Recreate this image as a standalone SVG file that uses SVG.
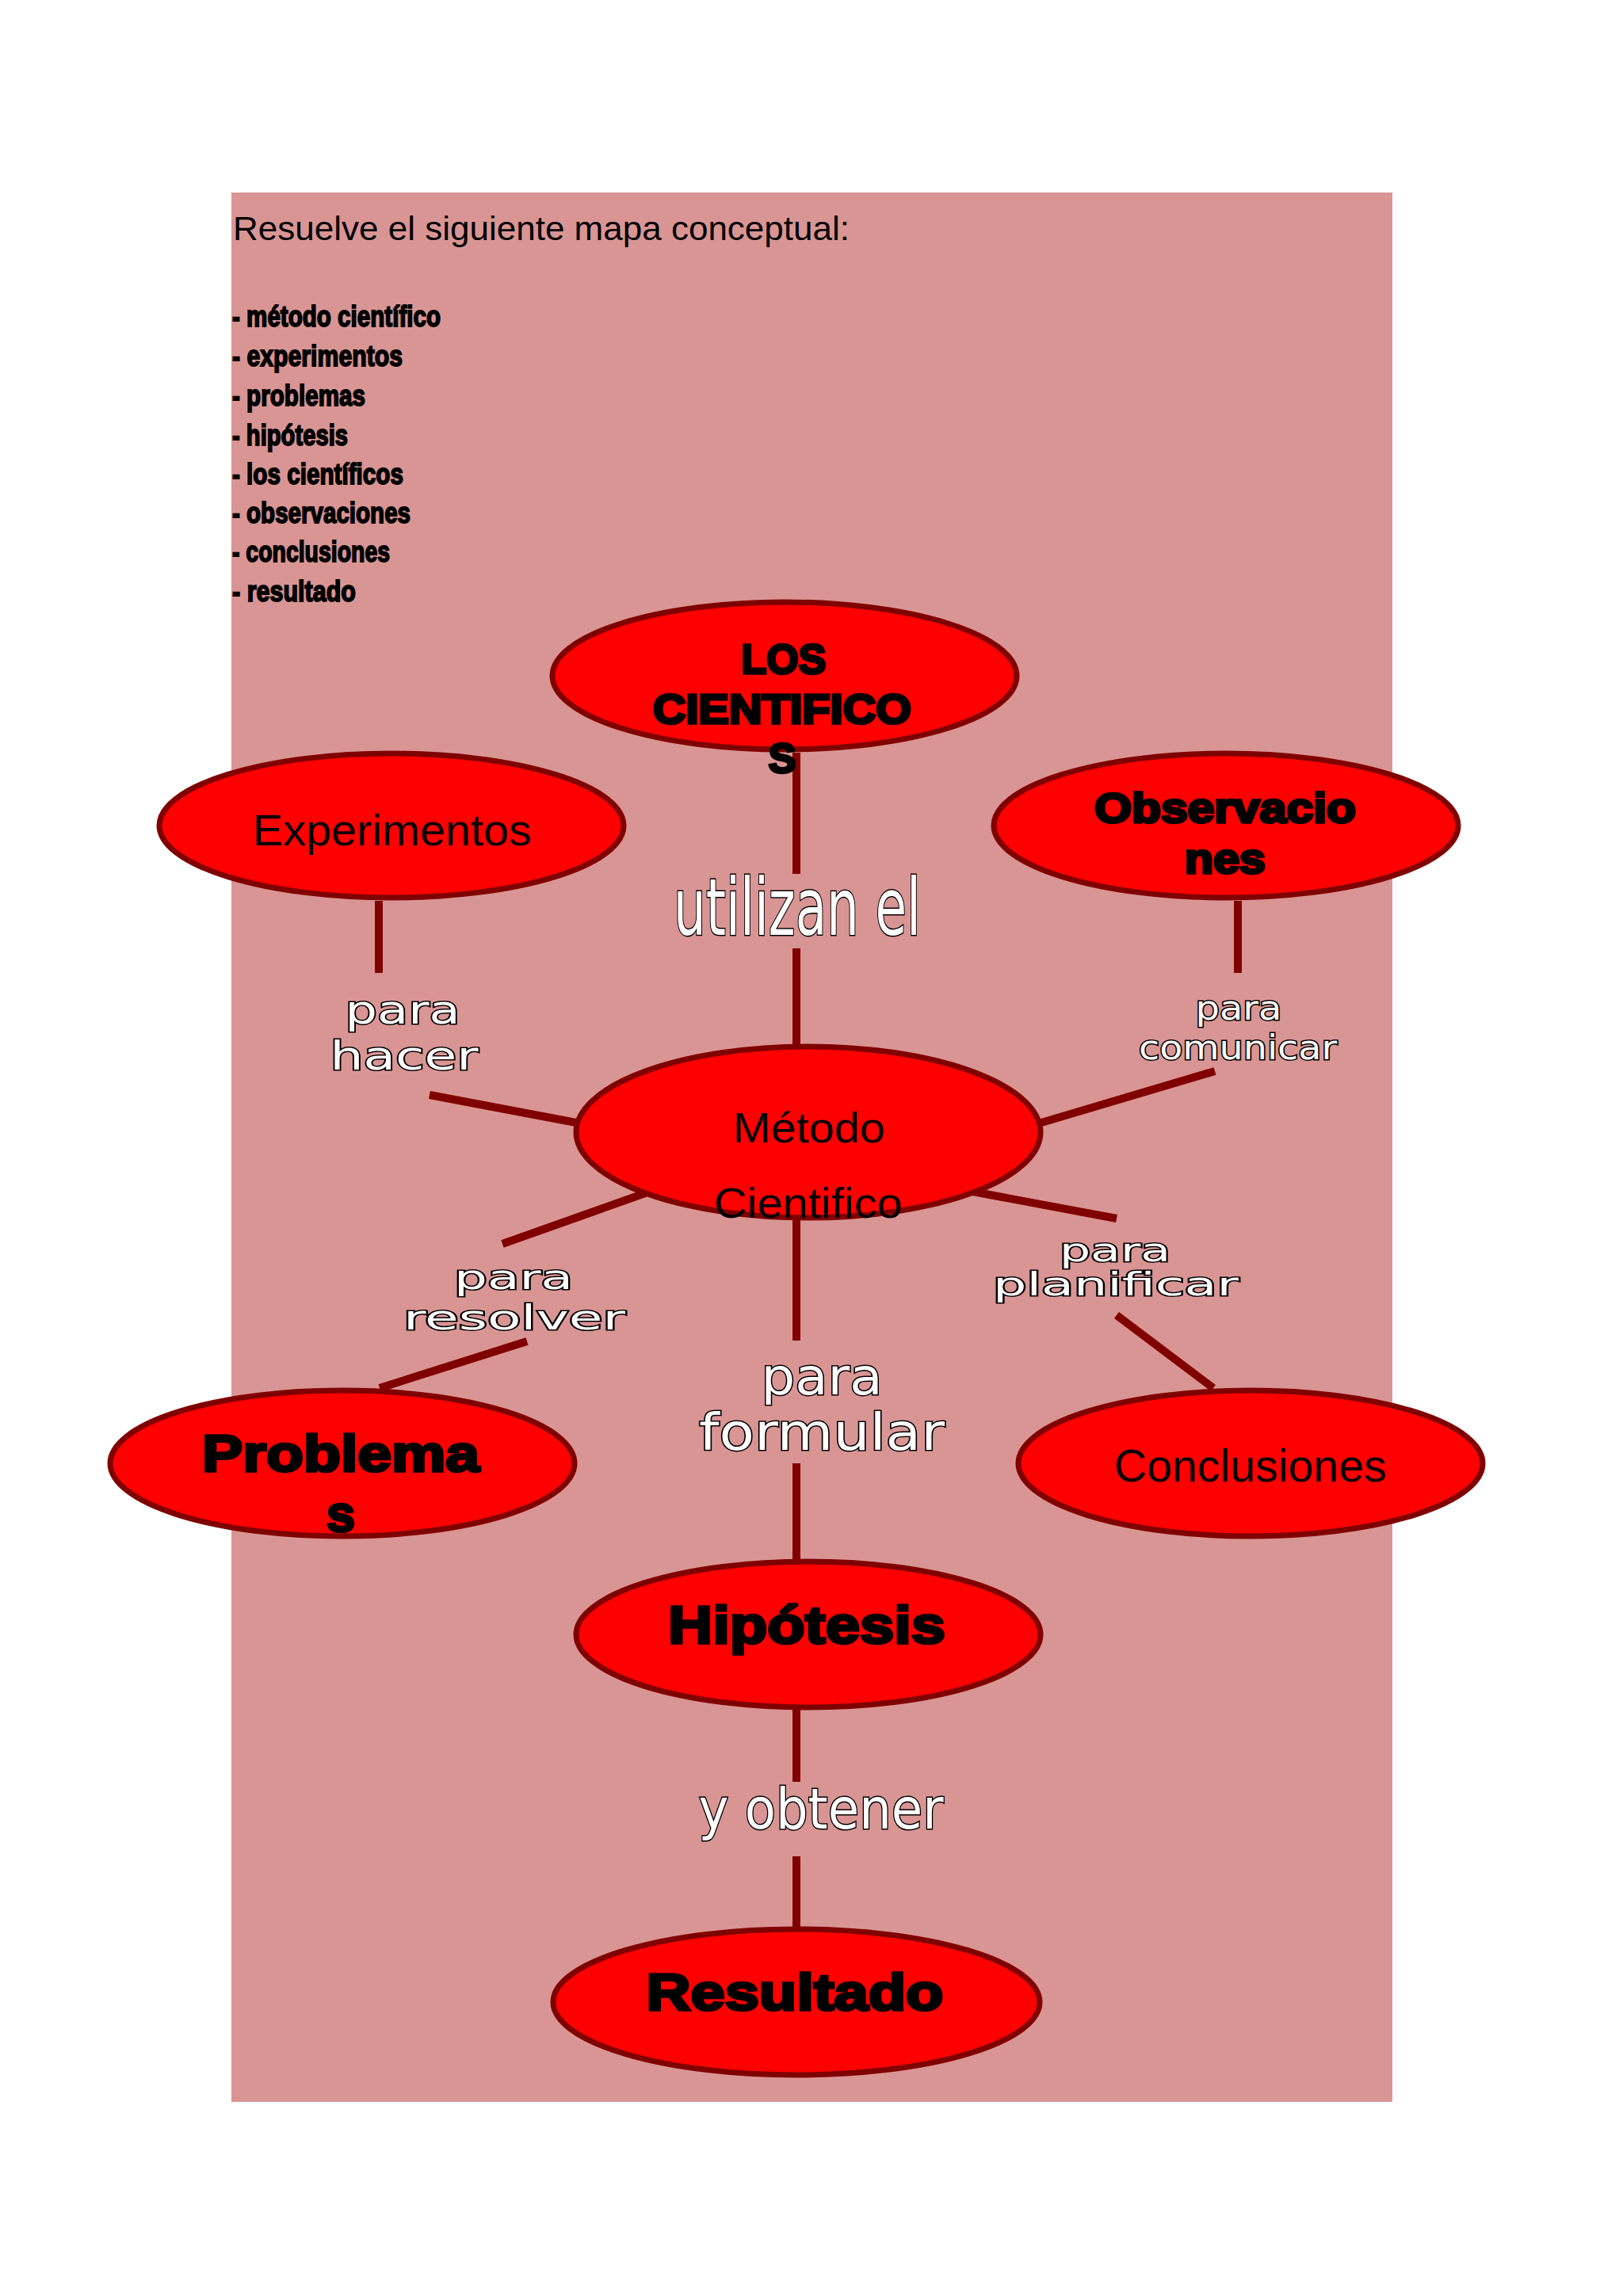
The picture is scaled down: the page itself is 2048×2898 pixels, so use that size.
<svg xmlns="http://www.w3.org/2000/svg" width="2048" height="2898" viewBox="0 0 2048 2898">
<style>
.node{fill:#FF0000;stroke:#800000;stroke-width:7}
.conn{stroke:#800000;stroke-width:10;fill:none}
.title{font-family:"Liberation Sans",Arial,sans-serif;font-size:42px;fill:#000}
.list{font-family:"Liberation Sans Narrow","Liberation Sans",sans-serif;font-weight:bold;font-size:37px;fill:#000;stroke:#000;stroke-width:1.8}
.blk{font-family:"Liberation Sans",Arial,sans-serif;font-weight:bold;fill:#000;stroke:#000;stroke-width:3.5;text-anchor:middle}
.reg{font-family:"Liberation Sans Narrow","Liberation Sans",sans-serif;fill:#000;text-anchor:middle}
.lbl{font-family:"DejaVu Sans","Open Sans",sans-serif;fill:#FFFFFF;stroke:#000;stroke-width:3;paint-order:stroke;text-anchor:middle}
</style>
<rect x="0" y="0" width="2048" height="2898" fill="#FFFFFF"/>
<rect x="292" y="243" width="1465" height="2410" fill="#D99594"/>
<text class="title" x="294" y="303" textLength="778" lengthAdjust="spacingAndGlyphs">Resuelve el siguiente mapa conceptual:</text>
<g id="list">
<text class="list" x="293" y="412" textLength="263" lengthAdjust="spacingAndGlyphs">- método científico</text>
<text class="list" x="293" y="462" textLength="215" lengthAdjust="spacingAndGlyphs">- experimentos</text>
<text class="list" x="293" y="512" textLength="168" lengthAdjust="spacingAndGlyphs">- problemas</text>
<text class="list" x="293" y="562" textLength="146" lengthAdjust="spacingAndGlyphs">- hipótesis</text>
<text class="list" x="293" y="611" textLength="216" lengthAdjust="spacingAndGlyphs">- los científicos</text>
<text class="list" x="293" y="660" textLength="225" lengthAdjust="spacingAndGlyphs">- observaciones</text>
<text class="list" x="293" y="709" textLength="199" lengthAdjust="spacingAndGlyphs">- conclusiones</text>
<text class="list" x="293" y="759" textLength="156" lengthAdjust="spacingAndGlyphs">- resultado</text>
</g>
<g id="connectors">
<line class="conn" x1="1005" y1="950" x2="1005" y2="1103"/>
<line class="conn" x1="1005" y1="1197" x2="1005" y2="1318"/>
<line class="conn" x1="478" y1="1137" x2="478" y2="1228"/>
<line class="conn" x1="542" y1="1382" x2="727" y2="1417"/>
<line class="conn" x1="1562" y1="1137" x2="1562" y2="1228"/>
<line class="conn" x1="1533" y1="1352" x2="1314" y2="1417"/>
<line class="conn" x1="817" y1="1505" x2="634" y2="1570"/>
<line class="conn" x1="665" y1="1693" x2="479" y2="1752"/>
<line class="conn" x1="1222" y1="1503" x2="1409" y2="1538"/>
<line class="conn" x1="1409" y1="1660" x2="1531" y2="1752"/>
<line class="conn" x1="1005" y1="1540" x2="1005" y2="1692"/>
<line class="conn" x1="1005" y1="1847" x2="1005" y2="1968"/>
<line class="conn" x1="1005" y1="2158" x2="1005" y2="2249"/>
<line class="conn" x1="1005" y1="2343" x2="1005" y2="2433"/>
</g>
<g id="labels">
<text class="lbl" x="1006" y="1180" font-size="100" textLength="312" lengthAdjust="spacingAndGlyphs">utilizan el</text>
<text class="lbl" x="508" y="1292" font-size="50" textLength="145" lengthAdjust="spacingAndGlyphs">para</text>
<text class="lbl" x="510" y="1350" font-size="50" textLength="187" lengthAdjust="spacingAndGlyphs">hacer</text>
<text class="lbl" x="1563" y="1287" font-size="42" textLength="109" lengthAdjust="spacingAndGlyphs">para</text>
<text class="lbl" x="1562" y="1337" font-size="42" textLength="250" lengthAdjust="spacingAndGlyphs">comunicar</text>
<text class="lbl" x="648" y="1627" font-size="42" textLength="150" lengthAdjust="spacingAndGlyphs">para</text>
<text class="lbl" x="649" y="1678" font-size="42" textLength="280" lengthAdjust="spacingAndGlyphs">resolver</text>
<text class="lbl" x="1407" y="1592" font-size="40" textLength="140" lengthAdjust="spacingAndGlyphs">para</text>
<text class="lbl" x="1408" y="1635" font-size="40" textLength="310" lengthAdjust="spacingAndGlyphs">planificar</text>
<text class="lbl" x="1037" y="1760" font-size="64" textLength="153" lengthAdjust="spacingAndGlyphs">para</text>
<text class="lbl" x="1037" y="1830" font-size="64" textLength="310" lengthAdjust="spacingAndGlyphs">formular</text>
<text class="lbl" x="1036" y="2308" font-size="72" textLength="309" lengthAdjust="spacingAndGlyphs">y obtener</text>
</g>
<g id="node-cientificos">
<ellipse class="node" cx="990" cy="853" rx="293" ry="93"/>
<text class="blk" x="989" y="850" font-size="52" textLength="107" lengthAdjust="spacingAndGlyphs">LOS</text>
<text class="blk" x="987" y="913" font-size="52" textLength="326" lengthAdjust="spacingAndGlyphs">CIENTIFICO</text>
<text class="blk" x="987" y="975" font-size="52">S</text>
</g>
<g id="node-experimentos">
<ellipse class="node" cx="494" cy="1042" rx="293" ry="91"/>
<text class="reg" x="495" y="1067" font-size="56" textLength="352" lengthAdjust="spacingAndGlyphs">Experimentos</text>
</g>
<g id="node-observaciones">
<ellipse class="node" cx="1547" cy="1042" rx="293" ry="91"/>
<text class="blk" x="1546" y="1038" font-size="51" textLength="330" lengthAdjust="spacingAndGlyphs">Observacio</text>
<text class="blk" x="1546" y="1102" font-size="51" textLength="102" lengthAdjust="spacingAndGlyphs">nes</text>
</g>
<g id="node-metodo">
<ellipse class="node" cx="1020" cy="1429" rx="293" ry="108"/>
<text class="reg" x="1021" y="1442" font-size="53" textLength="192" lengthAdjust="spacingAndGlyphs">Método</text>
<text class="reg" x="1020" y="1537" font-size="53" textLength="238" lengthAdjust="spacingAndGlyphs">Cientifico</text>
</g>
<g id="node-problemas">
<ellipse class="node" cx="432" cy="1847" rx="293" ry="92"/>
<text class="blk" x="430" y="1857" font-size="65" textLength="350" lengthAdjust="spacingAndGlyphs">Problema</text>
<text class="blk" x="430" y="1933" font-size="65">s</text>
</g>
<g id="node-conclusiones">
<ellipse class="node" cx="1578" cy="1847" rx="293" ry="92"/>
<text class="reg" x="1578" y="1870" font-size="58" textLength="344" lengthAdjust="spacingAndGlyphs">Conclusiones</text>
</g>
<g id="node-hipotesis">
<ellipse class="node" cx="1020" cy="2063" rx="293" ry="92"/>
<text class="blk" x="1018" y="2074" font-size="66" textLength="350" lengthAdjust="spacingAndGlyphs">Hipótesis</text>
</g>
<g id="node-resultado">
<ellipse class="node" cx="1005" cy="2527" rx="307" ry="92"/>
<text class="blk" x="1003" y="2537" font-size="64" textLength="375" lengthAdjust="spacingAndGlyphs">Resultado</text>
</g>
</svg>
